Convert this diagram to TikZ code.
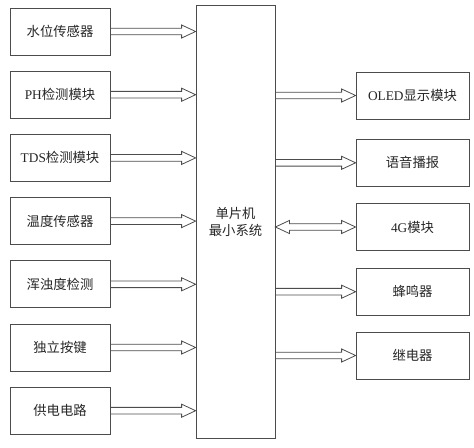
\documentclass[tikz,border=0pt]{standalone}
\usepackage{fontspec}
\setmainfont{Liberation Serif}
\newfontfamily\cjk{Noto Sans CJK SC}
\usetikzlibrary{calc}
\begin{document}
\begin{tikzpicture}[x=0.75pt,y=-0.75pt,line width=0.6pt,
  caixa/.style={draw=black!70,text=black!85,font=\fontsize{10pt}{12.75pt}\selectfont,minimum width=75pt,minimum height=35.25pt,inner sep=1pt},
  saida/.style={caixa,minimum width=84.75pt},
  seta/.style={draw=black!70,to path={let \p1=(\tikztostart),\p2=(\tikztotarget) in
    (\x1,\y1+2.5pt) -- (\x2-10.5pt,\y1+2.5pt) -- (\x2-10.5pt,\y1+4.9pt) -- (\x2,\y1)
    -- (\x2-10.5pt,\y1-4.9pt) -- (\x2-10.5pt,\y1-2.5pt) -- (\x1,\y1-2.5pt) -- cycle}},
  setadupla/.style={draw=black!70,to path={let \p1=(\tikztostart),\p2=(\tikztotarget) in
    (\x1,\y1) -- (\x1+10.5pt,\y1+4.9pt) -- (\x1+10.5pt,\y1+2.5pt) -- (\x2-10.5pt,\y1+2.5pt)
    -- (\x2-10.5pt,\y1+4.9pt) -- (\x2,\y1) -- (\x2-10.5pt,\y1-4.9pt) -- (\x2-10.5pt,\y1-2.5pt)
    -- (\x1+10.5pt,\y1-2.5pt) -- (\x1+10.5pt,\y1-4.9pt) -- cycle}}]
  \useasboundingbox (0,0) rectangle (474,448);

  %microcontrolador
  \node[caixa,minimum width=59.25pt,minimum height=324.75pt,align=center] (mcu) at (235.5,221.5) {\cjk 单片机\\\cjk 最小系统};

  %entradas
  \node[caixa] (in1) at (60,31.5) {\cjk 水位传感器};
  \node[caixa] (in2) at (60,94.7) {PH{\cjk 检测模块}};
  \node[caixa] (in3) at (60,157.9) {TDS{\cjk 检测模块}};
  \node[caixa] (in4) at (60,221.1) {\cjk 温度传感器};
  \node[caixa] (in5) at (60,284.3) {\cjk 浑浊度检测};
  \node[caixa] (in6) at (60,347.5) {\cjk 独立按键};
  \node[caixa] (in7) at (60,410.7) {\cjk 供电电路};

  %saidas
  \node[saida] (out1) at (412.5,95.5) {OLED{\cjk 显示模块}};
  \node[saida] (out2) at (412.5,162.8) {\cjk 语音播报};
  \node[saida] (out3) at (412.5,227) {4G{\cjk 模块}};
  \node[saida] (out4) at (412.5,291.7) {\cjk 蜂鸣器};
  \node[saida] (out5) at (412.5,355.5) {\cjk 继电器};

  %setas
  \draw[seta] (in1.east) to (in1.east -| mcu.west);
  \draw[seta] (in2.east) to (in2.east -| mcu.west);
  \draw[seta] (in3.east) to (in3.east -| mcu.west);
  \draw[seta] (in4.east) to (in4.east -| mcu.west);
  \draw[seta] (in5.east) to (in5.east -| mcu.west);
  \draw[seta] (in6.east) to (in6.east -| mcu.west);
  \draw[seta] (in7.east) to (in7.east -| mcu.west);

  \draw[seta] (mcu.east |- out1.west) to (out1.west);
  \draw[seta] (mcu.east |- out2.west) to (out2.west);
  \draw[setadupla] (mcu.east |- out3.west) to (out3.west);
  \draw[seta] (mcu.east |- out4.west) to (out4.west);
  \draw[seta] (mcu.east |- out5.west) to (out5.west);

\end{tikzpicture}
\end{document}
